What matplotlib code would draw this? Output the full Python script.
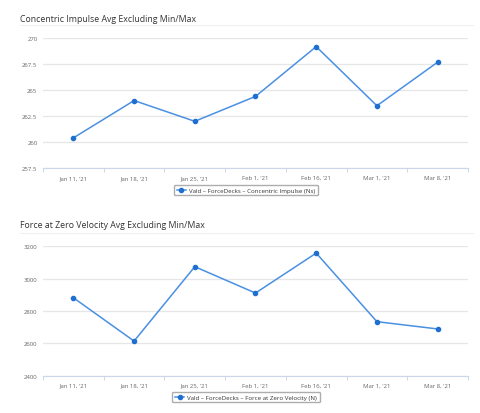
import matplotlib.pyplot as plt
from matplotlib.lines import Line2D

dates = ["Jan 11, '21", "Jan 18, '21", "Jan 25, '21", "Feb 1, '21",
         "Feb 16, '21", "Mar 1, '21", "Mar 8, '21"]
impulse = [260.4, 264.0, 262.0, 264.4, 269.2, 263.5, 267.7]
force_zero = [2882, 2614, 3074, 2911, 3158, 2734, 2689]

impulse_ticks = [257.5, 260, 262.5, 265, 267.5, 270]
force_ticks = [2400, 2600, 2800, 3000, 3200]

plt.rcParams['font.family'] = ['Open Sans', 'DejaVu Sans']

W, H = 480, 414
fig = plt.figure(figsize=(W / 100, H / 100), dpi=100)

line_col = '#4a90e2'
mark_col = '#1f6fd1'
grid_col = '#e6e6e6'
axis_col = '#ccd6eb'
text_col = '#666666'


def draw_panel(px_top, px_bottom, title, title_y, sep_y, values, ticks, ylim, label, leg_y):
    left, right = 43, 468
    ax = fig.add_axes([left / W, 1 - px_bottom / H, (right - left) / W, (px_bottom - px_top) / H])
    x = list(range(len(values)))
    ax.plot(x, values, color=line_col, lw=1.1, marker='o', ms=3.0,
            mfc=mark_col, mec=mark_col, zorder=3)
    ax.set_xlim(-0.5, len(values) - 0.5)
    ax.set_ylim(*ylim)
    ax.set_yticks(ticks)
    ax.set_yticklabels([f"{t:g}" for t in ticks])
    ax.set_xticks(x)
    ax.set_xticklabels(dates)
    ax.set_xticks([i - 0.5 for i in range(len(values) + 1)], minor=True)
    ax.tick_params(axis='x', which='major', length=0, labelsize=4.3, colors=text_col, pad=5)
    ax.tick_params(axis='x', which='minor', length=3, color=axis_col, width=0.7)
    ax.tick_params(axis='y', length=0, labelsize=4.3, colors=text_col, pad=4)
    ax.grid(axis='y', color=grid_col, lw=0.9)
    ax.set_axisbelow(True)
    for s in ['top', 'right', 'left']:
        ax.spines[s].set_visible(False)
    ax.spines['bottom'].set_color(axis_col)
    ax.spines['bottom'].set_linewidth(0.8)
    ax.spines['bottom'].set_zorder(2)

    fig.text(20 / W, 1 - title_y / H, title, fontsize=6.3, color='#333333', va='center')
    fig.add_artist(Line2D([20 / W, 473 / W], [1 - sep_y / H] * 2, color='#f0f0f0', lw=0.8))

    handle = Line2D([], [], color=line_col, lw=1.1, marker='o', ms=3.0,
                    mfc=mark_col, mec=mark_col)
    fig.legend([handle], [label], loc='center', bbox_to_anchor=(246 / W, 1 - leg_y / H),
               fontsize=4.4, frameon=True, edgecolor='#999999', fancybox=True,
               handlelength=1.5, handletextpad=0.5, borderpad=0.45, labelcolor='#333333')
    return ax


draw_panel(39.3, 169, "Concentric Impulse Avg Excluding Min/Max", 19, 26,
           impulse, impulse_ticks, (257.5, 270),
           "Vald – ForceDecks – Concentric Impulse (Ns)", 191)
draw_panel(247.3, 376.7, "Force at Zero Velocity Avg Excluding Min/Max", 226, 234,
           force_zero, force_ticks, (2400, 3200),
           "Vald – ForceDecks – Force at Zero Velocity (N)", 398)

fig.savefig('out.png', dpi=100)
